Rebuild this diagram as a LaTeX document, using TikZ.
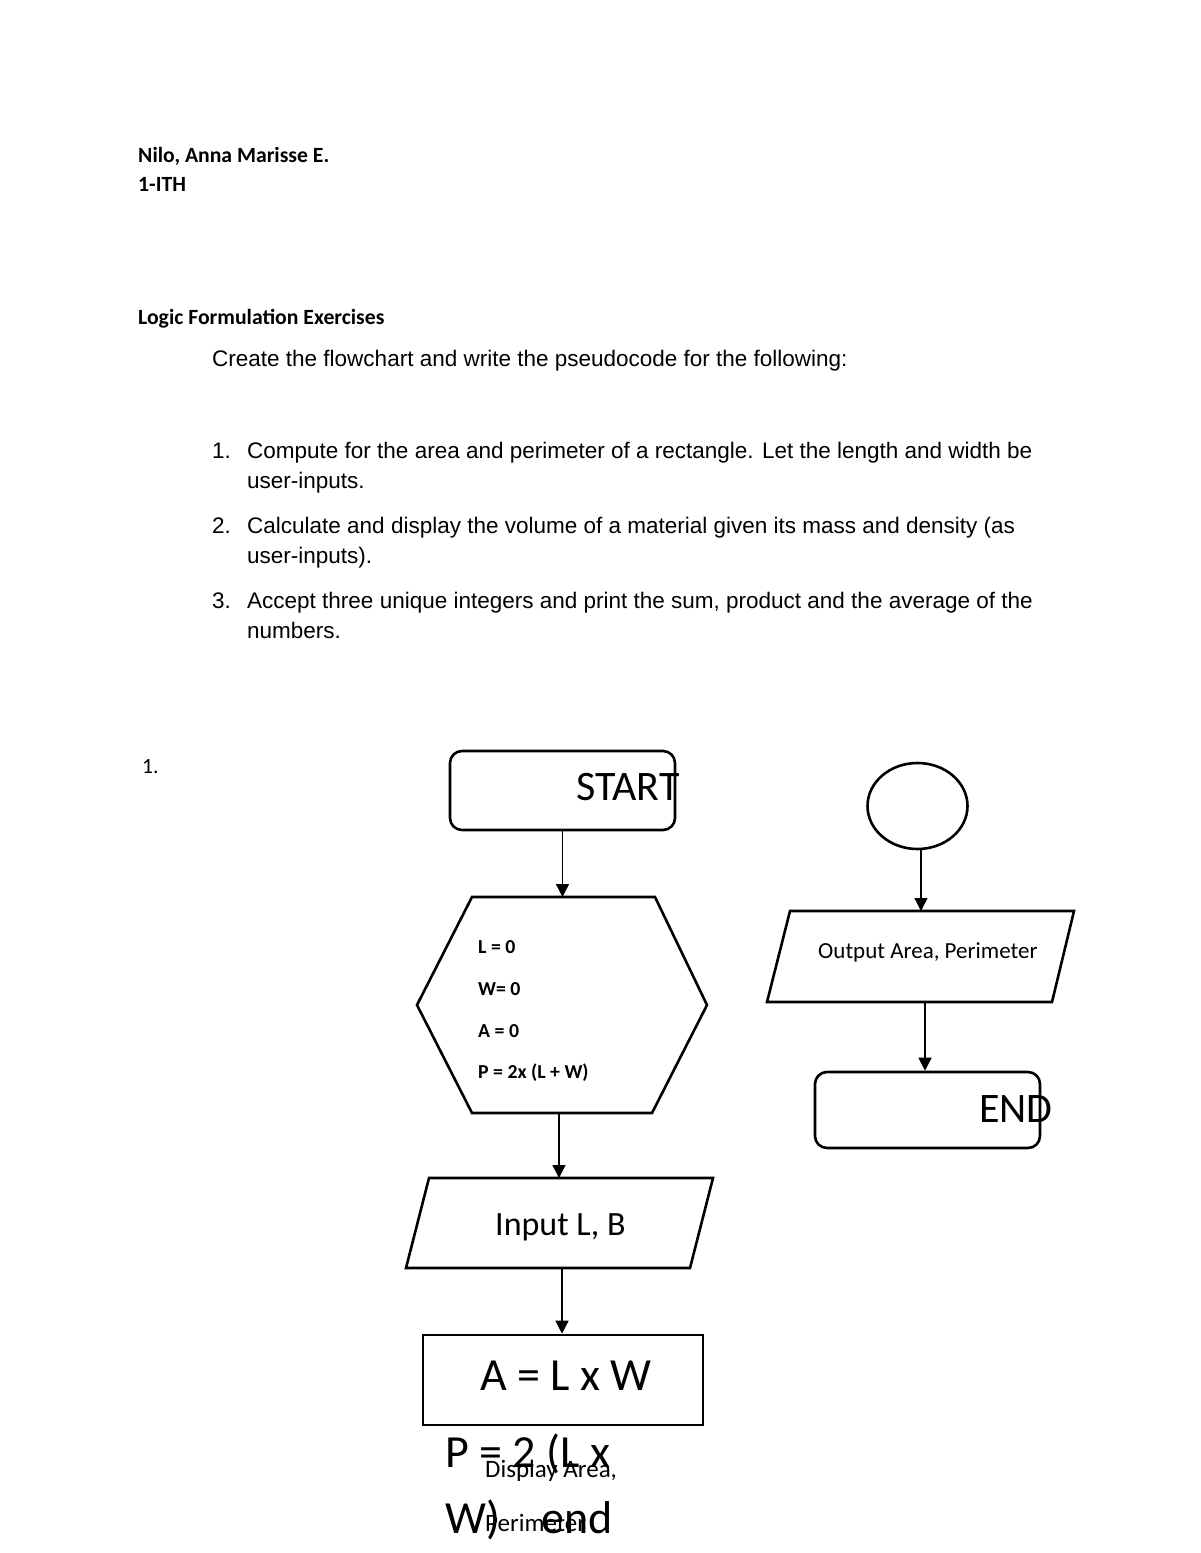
\documentclass[tikz,border=0pt]{standalone}
\usepackage{fontspec}
\setmainfont{Carlito}
\newfontfamily\arialf{Liberation Sans}
\usetikzlibrary{arrows.meta,shapes.geometric}
\begin{document}
\begin{tikzpicture}[x=1pt,y=-1pt,
  box/.style={draw, line width=2.6pt, inner sep=0pt},
  conn/.style={line width=1.3pt, -{Triangle[length=13pt,width=13pt]}},
  txt/.style={inner sep=0pt, anchor=base west},
  hdr/.style={txt, font=\fontsize{21.7}{26}\selectfont\bfseries},
  body/.style={txt, font=\fontsize{22.5}{27}\selectfont\arialf},
  hexf/.style={txt, font=\fontsize{19.8}{24}\selectfont\bfseries},
  big/.style={txt, font=\fontsize{46}{55}\selectfont},
  term/.style={txt, font=\fontsize{42}{50}\selectfont},
  small/.style={txt, font=\fontsize{25}{30}\selectfont}]
\useasboundingbox[fill=white] (0,0) rectangle (1200,1553);

% header
\node[hdr] (name) at (138,162) {Nilo, Anna Marisse E.};
\node[hdr] (sec) at (138,191) {1-ITH};
\node[hdr] (title) at (138,324) {Logic Formulation Exercises};
\node[body] (intro) at (212,366) {Create the flowchart and write the pseudocode for the following:};

\node[body] (n1) at (212,458) {1.};
\node[body] (l1a) at (247,458) {Compute for the area and perimeter of a rectangle. Let the length and width be};
\node[body] (l1b) at (247,488) {user-inputs.};
\node[body] (n2) at (212,533) {2.};
\node[body] (l2a) at (247,533) {Calculate and display the volume of a material given its mass and density (as};
\node[body] (l2b) at (247,563) {user-inputs).};
\node[body] (n3) at (212,608) {3.};
\node[body] (l3a) at (247,608) {Accept three unique integers and print the sum, product and the average of the};
\node[body] (l3b) at (247,638) {numbers.};

\node[txt, font=\fontsize{21.7}{26}\selectfont] (q1) at (142,773) {1.};

% START
\node[box, rounded corners=12pt, minimum width=225pt, minimum height=79pt] (start) at (562.5,790.5) {};
\node[term] (starttxt) at (576,800) {START};

% hexagon
\draw[box, line join=miter] (472,897) -- (655,897) -- (707,1005) -- (652,1113) -- (472,1113) -- (417,1005) -- cycle;
\coordinate (hexT) at (562.5,897);
\coordinate (hexB) at (559,1113);
\node[hexf] (h1) at (478,953) {L = 0};
\node[hexf] (h2) at (478,995) {W= 0};
\node[hexf] (h3) at (478,1037) {A = 0};
\node[hexf] (h4) at (478,1078) {P = 2x (L + W)};

% input
\draw[box] (429,1178) -- (713,1178) -- (690,1268) -- (406,1268) -- cycle;
\coordinate (inT) at (559,1178);
\coordinate (inB) at (562,1268);
\node[txt, font=\fontsize{34}{41}\selectfont] (intxt) at (495,1235) {Input L, B};

% process
\node[box, minimum width=280pt, minimum height=90pt] (proc) at (563,1380) {};
\node[big] (proctxt) at (480,1390) {A = L x W};
\node[big] (p1) at (445,1467) {P = 2 (L x};
\node[big] (p2) at (445,1533) {W)};
\node[big] (endw) at (541,1533) {end};
\node[small] (d1) at (485,1477) {Display Area,};
\node[small] (d2) at (485,1531) {Perimeter};

% right column
\node[box, ellipse, minimum width=100pt, minimum height=86pt] (circ) at (917.5,806) {};
\draw[box] (790,911) -- (1074,911) -- (1052,1002) -- (767,1002) -- cycle;
\coordinate (outT) at (921,911);
\coordinate (outB) at (925,1002);
\node[txt, font=\fontsize{23}{28}\selectfont] (outtxt) at (818,958) {Output Area, Perimeter};
\node[box, rounded corners=12pt, minimum width=225pt, minimum height=76pt] (end) at (927.5,1110) {};
\node[term] (endtxt) at (979,1122) {END};

% connectors
\draw[conn] (start.south) -- (hexT);
\draw[conn] (hexB) -- (inT);
\draw[conn] (inB) -- (proc.north -| inB);
\draw[conn] (circ.south -| outT) -- (outT);
\draw[conn] (outB) -- (end.north -| outB);
\end{tikzpicture}
\end{document}
